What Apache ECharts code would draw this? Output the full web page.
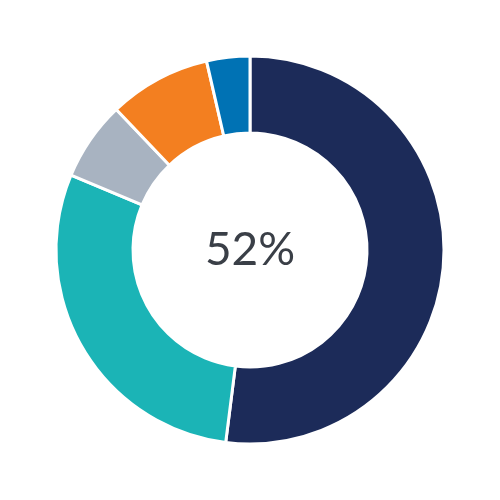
<!DOCTYPE html>
<html><head><meta charset="utf-8">
<script src="https://cdn.jsdelivr.net/npm/echarts@6/dist/echarts.min.js"></script>
<style>html,body{margin:0;padding:0;background:#fff}#c{width:500px;height:500px}</style>
</head><body><div id="c"></div>
<script>
const categories = ['A','B','C','D','E'];
const values = [52, 29.3, 6.6, 8.5, 3.6];
const colors = ['#1c2b59','#1bb4b6','#a8b3c1','#f37f20','#0072b4'];
const centerLabel = '52%';
const chart = echarts.init(document.getElementById('c'));
chart.setOption({
  animation:false,
  title:{text:centerLabel,left:'center',top:'center',textStyle:{fontFamily:'Lato',fontWeight:'normal',fontSize:46,color:'#3a3f47'}},
  series:[{
    type:'pie',
    radius:[117,194],
    center:['50%','50%'],
    startAngle:90,
    clockwise:true,
    label:{show:false},
    labelLine:{show:false},
    itemStyle:{borderColor:'#fff',borderWidth:3},
    data: categories.map((c,i)=>({name:c,value:values[i],itemStyle:{color:colors[i]}}))
  }]
});
</script></body></html>
